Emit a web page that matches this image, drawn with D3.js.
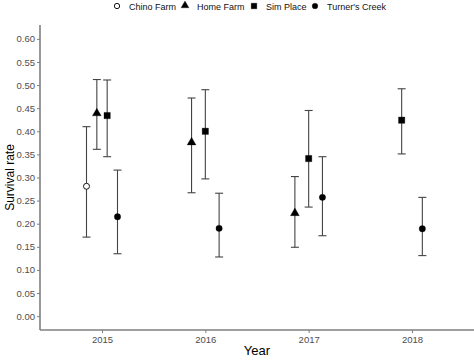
<!DOCTYPE html>
<html><head><meta charset="utf-8">
<script src="https://cdn.jsdelivr.net/npm/d3@7"></script>
<style>body{margin:0;background:#fff}svg{display:block}</style>
</head><body>
<svg id="c" width="474" height="361"></svg>
<script>
const years = ["2015","2016","2017","2018"];
const sites = ["Chino Farm","Home Farm","Sim Place","Turner's Creek"];
const yTicks = [0,0.05,0.10,0.15,0.20,0.25,0.30,0.35,0.40,0.45,0.50,0.55,0.60];
const obsYear  = ["2015","2015","2015","2015","2016","2016","2016","2017","2017","2017","2018","2018"];
const obsSite  = ["Chino Farm","Home Farm","Sim Place","Turner's Creek","Home Farm","Sim Place","Turner's Creek","Home Farm","Sim Place","Turner's Creek","Sim Place","Turner's Creek"];
const estimate = [0.281,0.439,0.434,0.215,0.376,0.400,0.190,0.223,0.341,0.257,0.424,0.189];
const lower    = [0.171,0.361,0.345,0.135,0.267,0.297,0.128,0.149,0.236,0.174,0.351,0.131];
const upper    = [0.410,0.512,0.511,0.316,0.472,0.490,0.266,0.302,0.445,0.345,0.492,0.257];

const data = obsYear.map((y,i)=>({year:y,site:obsSite[i],est:estimate[i],lo:lower[i],hi:upper[i]}));

const svg = d3.select("#c");
const L=40, R=474, T=25, B=330;
const x = d3.scalePoint().domain(years).range([L,R]).padding(0.6);
const step = x.step();
const y = d3.scaleLinear().domain([-0.03,0.63]).range([B,T]);

const grey="#4d4d4d", font="Arial, 'Liberation Sans', sans-serif";

const yAxis = svg.append("g").attr("transform",`translate(${L},0)`)
  .call(d3.axisLeft(y).tickValues(yTicks).tickFormat(d3.format(".2f")).tickSize(3).tickPadding(2));
const xAxis = svg.append("g").attr("transform",`translate(0,${B})`)
  .call(d3.axisBottom(x).tickSize(3).tickPadding(3));
[yAxis,xAxis].forEach(g=>{
  g.select(".domain").attr("stroke","#7f7f7f").attr("stroke-width",1.6);
  g.selectAll(".tick line").attr("stroke","#7f7f7f");
  g.selectAll(".tick text").attr("fill",grey).attr("font-size",9.5).attr("font-family",font);
});
xAxis.select(".domain").attr("d",`M${L},0H${R}`);
yAxis.select(".domain").attr("d",`M0,${T}V${B}`);

const dodgeW = 0.4*step;
function xpos(d){
  const present = sites.filter(s=>data.some(e=>e.year===d.year&&e.site===s));
  const n=present.length, k=present.indexOf(d.site);
  const w=dodgeW/n;
  return x(d.year) - dodgeW/2 + w*(k+0.5);
}

const eb = svg.append("g").attr("stroke","#444").attr("stroke-width",1.1);
data.forEach(d=>{
  const cx=xpos(d);
  eb.append("line").attr("x1",cx).attr("x2",cx).attr("y1",y(d.lo)).attr("y2",y(d.hi));
  eb.append("line").attr("x1",cx-4).attr("x2",cx+4).attr("y1",y(d.lo)).attr("y2",y(d.lo));
  eb.append("line").attr("x1",cx-4).attr("x2",cx+4).attr("y1",y(d.hi)).attr("y2",y(d.hi));
});

const shape = {"Chino Farm":d3.symbolCircle,"Home Farm":d3.symbolTriangle,"Sim Place":d3.symbolSquare,"Turner's Creek":d3.symbolCircle};
const sizes = {"Chino Farm":28,"Home Farm":34,"Sim Place":40,"Turner's Creek":32};
function drawSym(g,site,cx,cy,scale){
  const open = site==="Chino Farm";
  g.append("path").attr("d",d3.symbol().type(shape[site]).size(sizes[site]*(scale||1))())
    .attr("transform",`translate(${cx},${cy})`)
    .attr("fill",open?"#fff":"#000").attr("stroke","#000").attr("stroke-width",open?0.9:0.3);
}
const pts = svg.append("g");
data.forEach(d=>drawSym(pts,d.site,xpos(d),y(d.est)));

const legX=[117,185,254,315];
const lg = svg.append("g");
sites.forEach((s,i)=>{
  drawSym(lg,s,legX[i],s==="Home Farm"?5.5:6,0.8);
  lg.append("text").attr("x",legX[i]+12).attr("y",9.5).text(s)
    .attr("font-size",9).attr("font-family",font).attr("fill","#111");
});

svg.append("text").attr("x",(L+R)/2).attr("y",355).attr("text-anchor","middle")
  .attr("font-size",13).attr("font-family",font).attr("fill","#000").text("Year");
svg.append("text").attr("transform",`translate(14,${(T+B)/2}) rotate(-90)`).attr("text-anchor","middle")
  .attr("font-size",12).attr("font-family",font).attr("fill","#000").text("Survival rate");
</script>
</body></html>
